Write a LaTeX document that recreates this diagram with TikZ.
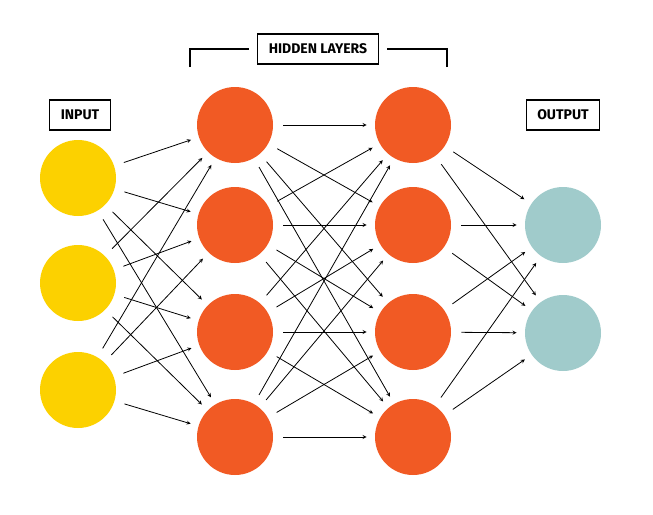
\documentclass[tikz,border=0pt]{standalone}
\usepackage{fontspec}
\setmainfont{Fira Sans}
\usetikzlibrary{arrows}
\definecolor{inyellow}{HTML}{FCD100}
\definecolor{hidorange}{HTML}{F15A24}
\definecolor{outteal}{HTML}{A0CBCB}
\begin{document}
\begin{tikzpicture}[
            x = 1pt, y = -1pt,
            > = stealth, % arrow head style
            shorten > = 8pt, % don't touch arrow head to node
            shorten < = 10pt,
            thick % line style
        ]

        \tikzstyle{neuron}=[circle, minimum size = 76pt, inner sep = 0pt]
        \tikzstyle{label box}=[draw = black, line width = 1.4pt,
            font = \fontsize{14}{16}\selectfont\bfseries,
            minimum height = 30pt, inner xsep = 11pt]

        \useasboundingbox (0,0) rectangle (653,514);

        \foreach \i/\y in {1/178, 2/283, 3/390}
            \node[neuron, fill = inyellow] (in\i) at (78,\y) {};
        \foreach \i/\y in {1/125, 2/225, 3/332, 4/437} {
            \node[neuron, fill = hidorange] (ha\i) at (235,\y) {};
            \node[neuron, fill = hidorange] (hb\i) at (413,\y) {};
        }
        \foreach \i/\y in {1/225, 2/333}
            \node[neuron, fill = outteal] (out\i) at (563,\y) {};

        \foreach \i in {1,2,3}
            \foreach \j in {1,2,3,4}
                \draw[->] (in\i) -- (ha\j);
        \foreach \i in {1,2,3,4}
            \foreach \j in {1,2,3,4}
                \draw[->] (ha\i) -- (hb\j);
        \foreach \i in {1,2,3,4}
            \foreach \j in {1,2}
                \draw[->] (hb\i) -- (out\j);

        \node[label box] (inlabel) at (80,115) {INPUT};
        \node[label box] (outlabel) at (563,115) {OUTPUT};
        \node[label box] (hidlabel) at (318,49) {HIDDEN LAYERS};
        \draw[line width = 1.4pt] (190,77) |- (hidlabel.west);
        \draw[line width = 1.4pt] (447,77) |- (hidlabel.east);
    \end{tikzpicture}
\end{document}
